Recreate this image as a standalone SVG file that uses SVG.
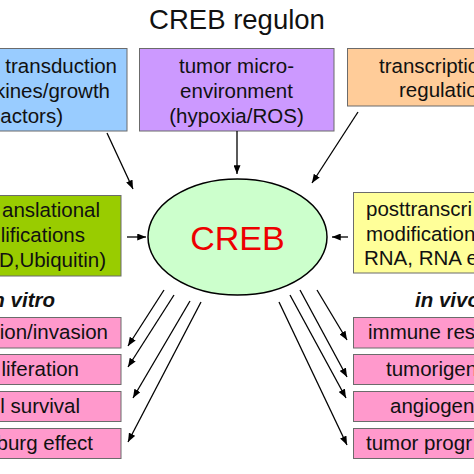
<svg xmlns="http://www.w3.org/2000/svg" width="474" height="474" viewBox="0 0 474 474">
<defs>
<marker id="ah" viewBox="0 0 10 8" refX="10" refY="4" markerWidth="9" markerHeight="7" orient="auto" markerUnits="userSpaceOnUse">
<path d="M0,0 L10,4 L0,8 z" fill="#000"/>
</marker>
<style>
.box{stroke:#6b6b6b;stroke-width:1}
.t{font-family:"Liberation Sans",Arial,sans-serif;font-size:20.5px;fill:#111}
.c{text-anchor:middle}
.e{text-anchor:end}
.it{font-style:italic;font-weight:bold}
.con{stroke:#000;stroke-width:1.3;fill:none;marker-end:url(#ah)}
</style>
</defs>
<rect width="474" height="474" fill="#fff"/>
<text x="237" y="29" class="t c" style="font-size:27.5px">CREB regulon</text>

<g id="signal">
<rect class="box" x="-67" y="48.5" width="194" height="82.5" fill="#99ccff"/>
<text class="t e" x="117" y="73">transduction</text>
<text class="t e" x="110" y="98">kines/growth</text>
<text class="t e" x="63" y="123">actors)</text>
</g>

<g id="micro">
<rect class="box" x="139.5" y="48.5" width="194.5" height="82.5" fill="#cc99ff"/>
<text class="t c" x="236.5" y="73">tumor micro-</text>
<text class="t c" x="236.5" y="98">environment</text>
<text class="t c" x="236.5" y="123">(hypoxia/ROS)</text>
</g>

<g id="transcr">
<rect class="box" x="347.5" y="48.5" width="192" height="57.5" fill="#ffcc99"/>
<text class="t" x="379" y="73">transcriptio</text>
<text class="t" x="399" y="97">regulatio</text>
</g>

<g id="posttransl">
<rect class="box" x="-70" y="195.5" width="191" height="80.5" fill="#99cc00"/>
<text class="t e" x="100" y="217">anslational</text>
<text class="t e" x="85" y="242">lifications</text>
<text class="t e" x="106" y="267">D,Ubiquitin)</text>
</g>

<g id="posttranscr">
<rect class="box" x="353.5" y="192.5" width="193" height="80.5" fill="#ffff99"/>
<text class="t" x="366" y="216">posttranscri</text>
<text class="t" x="366" y="241">modification</text>
<text class="t" x="364" y="265">RNA, RNA e</text>
</g>

<g id="creb">
<ellipse cx="237.5" cy="237" rx="89.5" ry="58" fill="#ccffcc" stroke="#000" stroke-width="1.5"/>
<text x="237.5" y="250" class="t c" style="font-size:34px;fill:#ee0000">CREB</text>
</g>

<text class="t e it" x="55" y="307">n vitro</text>
<text class="t it" x="415" y="307">in vivo</text>

<g id="migration">
<rect class="box" x="-70" y="317.5" width="191" height="30.5" fill="#ff99cc"/>
<text class="t e" x="108" y="339">ion/invasion</text>
</g>
<g id="prolif">
<rect class="box" x="-70" y="354.5" width="191" height="30" fill="#ff99cc"/>
<text class="t e" x="79" y="376">liferation</text>
</g>
<g id="survival">
<rect class="box" x="-70" y="391.5" width="191" height="30" fill="#ff99cc"/>
<text class="t e" x="80" y="413">l survival</text>
</g>
<g id="warburg">
<rect class="box" x="-70" y="428.5" width="191" height="30" fill="#ff99cc"/>
<text class="t e" x="93" y="450">burg effect</text>
</g>

<g id="immune">
<rect class="box" x="353.5" y="317.5" width="193" height="30.5" fill="#ff99cc"/>
<text class="t" x="368" y="339">immune res</text>
</g>
<g id="tumorigen">
<rect class="box" x="353.5" y="354.5" width="193" height="30" fill="#ff99cc"/>
<text class="t" x="386" y="376">tumorigen</text>
</g>
<g id="angio">
<rect class="box" x="353.5" y="391.5" width="193" height="30" fill="#ff99cc"/>
<text class="t" x="390" y="413">angiogen</text>
</g>
<g id="progr">
<rect class="box" x="353.5" y="428.5" width="193" height="30" fill="#ff99cc"/>
<text class="t" x="366" y="450">tumor progr</text>
</g>

<g id="connectors">
<line class="con" x1="107" y1="133" x2="133" y2="189"/>
<line class="con" x1="237" y1="131" x2="237" y2="174"/>
<line class="con" x1="358" y1="112" x2="312" y2="183"/>
<line class="con" x1="127" y1="237" x2="146" y2="237"/>
<line class="con" x1="348" y1="237" x2="332" y2="237"/>
<line class="con" x1="164" y1="290" x2="128" y2="346"/>
<line class="con" x1="174" y1="295" x2="128" y2="367"/>
<line class="con" x1="190" y1="301" x2="133" y2="398"/>
<line class="con" x1="201" y1="302" x2="128" y2="442"/>
<line class="con" x1="317" y1="290" x2="347" y2="340"/>
<line class="con" x1="300" y1="290" x2="347" y2="377"/>
<line class="con" x1="290" y1="295" x2="346" y2="398"/>
<line class="con" x1="279" y1="302" x2="347" y2="445"/>
</g>
</svg>
